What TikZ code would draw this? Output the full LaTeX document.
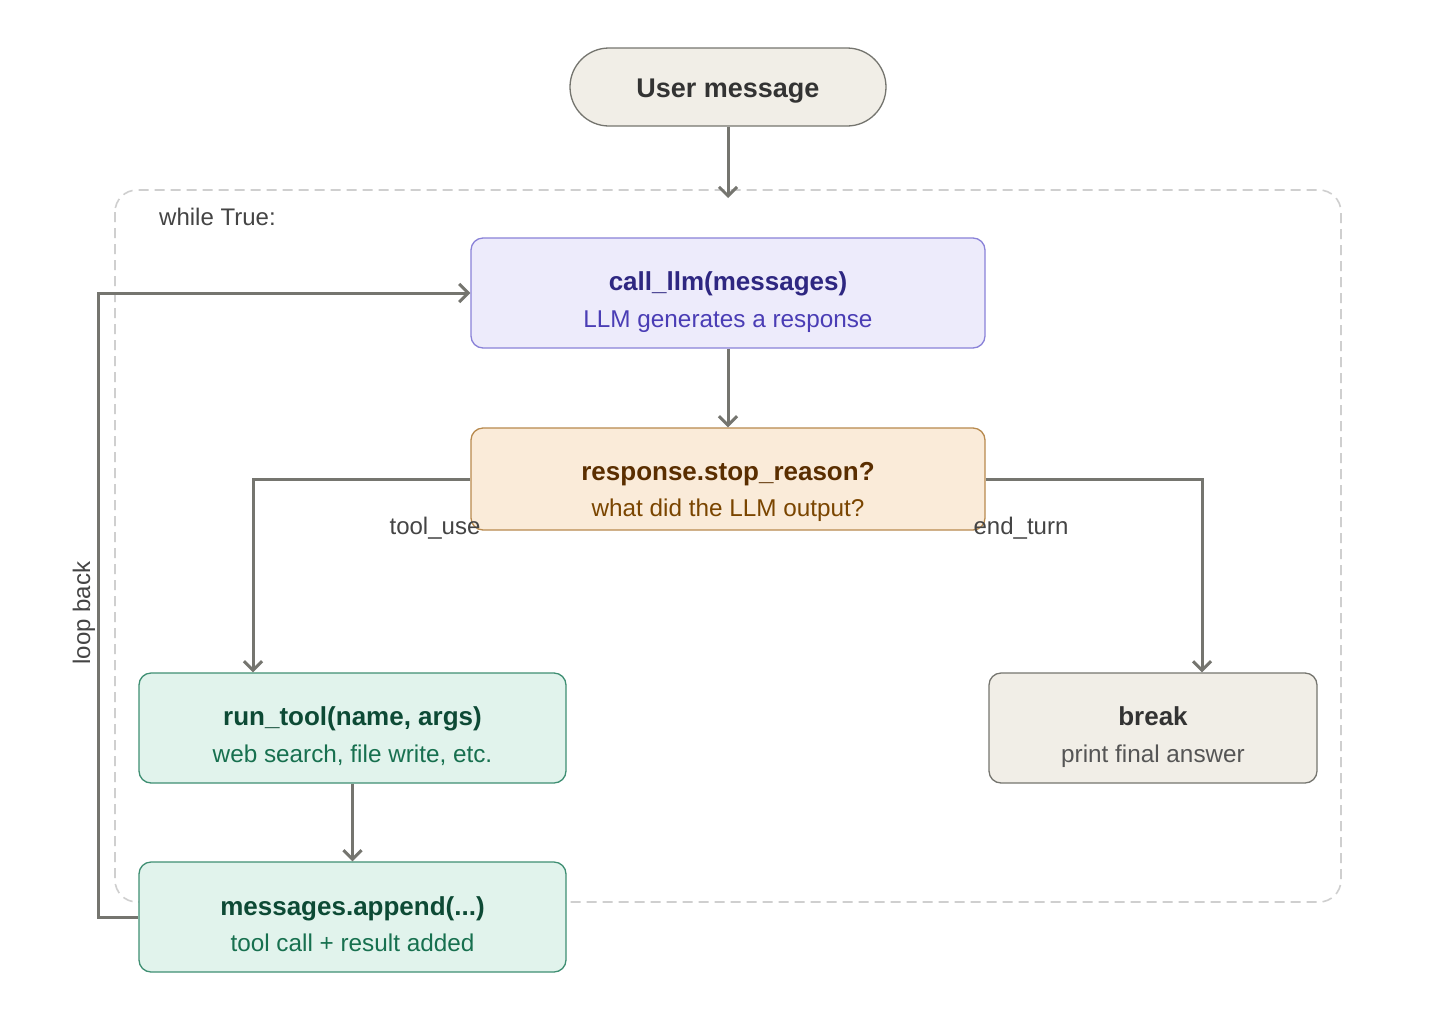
\documentclass[tikz,border=0pt]{standalone}
\usepackage{fontspec}
\setmainfont{Liberation Sans}
\usetikzlibrary{arrows.meta,calc}
\definecolor{linegray}{HTML}{75756F}
\definecolor{dashgray}{HTML}{CFCFCF}
\definecolor{labelgray}{HTML}{444444}
\definecolor{beigefill}{HTML}{F1EEE7}
\definecolor{beigedraw}{HTML}{75756F}
\definecolor{purplefill}{HTML}{EDEBFB}
\definecolor{purpledraw}{HTML}{8A82D8}
\definecolor{purpletitle}{HTML}{2E2781}
\definecolor{purplesub}{HTML}{4A3DB5}
\definecolor{orangefill}{HTML}{FAEBD9}
\definecolor{orangedraw}{HTML}{B88A4E}
\definecolor{orangetitle}{HTML}{5A2E00}
\definecolor{orangesub}{HTML}{7A4500}
\definecolor{greenfill}{HTML}{E1F3EC}
\definecolor{greendraw}{HTML}{3F8F73}
\definecolor{greentitle}{HTML}{0D4A35}
\definecolor{greensub}{HTML}{17704F}
\definecolor{darktext}{HTML}{333333}
\definecolor{graysub}{HTML}{555555}
\begin{document}
\begin{tikzpicture}[x=1pt,y=-1pt,
  box/.style={rounded corners=12pt, line width=1.3pt, inner sep=0pt},
  titletext/.style={font=\fontsize{26}{30}\selectfont\bfseries, anchor=base, inner sep=0pt},
  subtext/.style={font=\fontsize{24.3}{28}\selectfont, anchor=base, inner sep=0pt},
  labeltext/.style={font=\fontsize{24}{28}\selectfont, text=labelgray, inner sep=0pt},
  conn/.style={draw=linegray, line width=3pt, -{Straight Barb[length=9pt, width=18pt, line width=3pt]}}
]
\useasboundingbox (0,0) rectangle (1456,1029);
\fill[white] (0,0) rectangle (1456,1029);

% dashed container
\draw[dashgray, line width=1.6pt, dash pattern=on 10pt off 6pt, rounded corners=22pt] (115,190) rectangle (1341,902);
\node[labeltext, anchor=base west] (while) at (159,225) {while True:};

% user message
\node[box, rounded corners=39pt, fill=beigefill, draw=beigedraw, minimum width=316pt, minimum height=78pt] (user) at (728,87) {};
\node[titletext, text=darktext, font=\fontsize{27}{30}\selectfont\bfseries] (usert) at ($(user.center)+(0,10)$) {User message};

% call_llm
\node[box, fill=purplefill, draw=purpledraw, minimum width=514pt, minimum height=110pt] (llm) at (728,293) {};
\node[titletext, text=purpletitle] (llmt) at ($(llm.center)+(0,-3)$) {call\_llm(messages)};
\node[subtext, text=purplesub] (llms) at ($(llm.center)+(0,34)$) {LLM generates a response};

% decision
\node[box, fill=orangefill, draw=orangedraw, minimum width=514pt, minimum height=102pt] (dec) at (728,479) {};
\node[titletext, text=orangetitle] (dect) at ($(dec.center)+(0,1)$) {response.stop\_reason?};
\node[subtext, text=orangesub] (decs) at ($(dec.center)+(0,37)$) {what did the LLM output?};

% run_tool
\node[box, fill=greenfill, draw=greendraw, minimum width=427pt, minimum height=110pt] (run) at (352.5,728) {};
\node[titletext, text=greentitle] (runt) at ($(run.center)+(0,-3)$) {run\_tool(name, args)};
\node[subtext, text=greensub] (runs) at ($(run.center)+(0,34)$) {web search, file write, etc.};

% break
\node[box, fill=beigefill, draw=beigedraw, minimum width=328pt, minimum height=110pt] (brk) at (1153,728) {};
\node[titletext, text=darktext] (brkt) at ($(brk.center)+(0,-3)$) {break};
\node[subtext, text=graysub] (brks) at ($(brk.center)+(0,34)$) {print final answer};

% append
\node[box, fill=greenfill, draw=greendraw, minimum width=427pt, minimum height=110pt] (app) at (352.5,917) {};
\node[titletext, text=greentitle] (appt) at ($(app.center)+(0,-2)$) {messages.append(...)};
\node[subtext, text=greensub] (apps) at ($(app.center)+(0,34)$) {tool call + result added};

% connectors
\coordinate (entry) at (728,198);
\draw[conn] (user.south) -- (entry);
\draw[conn] (llm.south) -- (dec.north);
\draw[conn] (dec.west) -| (run.north -| 253,0);
\draw[conn] (dec.east) -| (brk.north -| 1202,0);
\draw[conn] (run.south) -- (app.north);
\draw[conn] (app.west) -- (98,917) |- (llm.west);

% labels
\node[labeltext, anchor=base] (tu) at (435,534) {tool\_use};
\node[labeltext, anchor=base] (et) at (1021,534) {end\_turn};
\node[labeltext, rotate=90] (lb) at (84,613) {loop back};
\end{tikzpicture}
\end{document}
